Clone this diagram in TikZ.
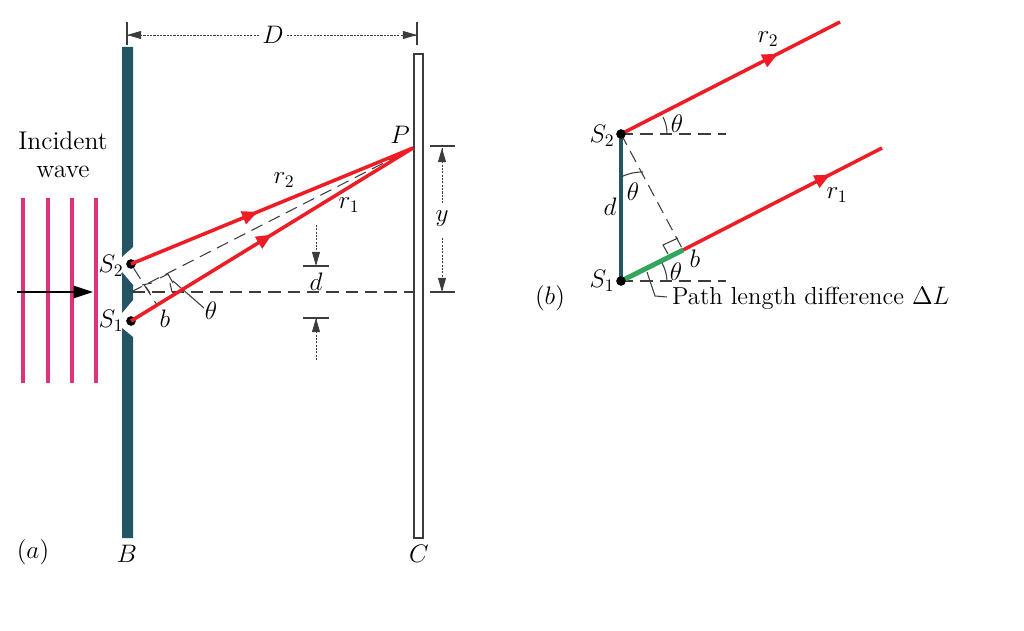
\documentclass[tikz,border=0pt]{standalone}
\usetikzlibrary{arrows.meta,decorations.markings,calc}
\definecolor{barrierteal}{RGB}{35,85,100}
\definecolor{wavepink}{RGB}{222,50,125}
\definecolor{rayred}{RGB}{238,28,37}
\definecolor{pathgreen}{RGB}{50,165,95}
\definecolor{dimgray}{RGB}{60,60,60}
\begin{document}
\begin{tikzpicture}[x=0.02cm, y=-0.02cm, line cap=butt, line join=miter, >=Stealth, font=\fontsize{14}{16}\selectfont]
	\tikzset{
		ray/.style={rayred, line width=2pt},
		midarrow/.style={postaction={decorate}, decoration={markings, mark=at position #1 with {\arrow[rayred]{Triangle[length=9pt,width=7.5pt]}}}},
		dashline/.style={dimgray, line width=0.6pt, dash pattern=on 7pt off 4pt},
		dimline/.style={dimgray, line width=0.5pt, dash pattern=on 1.2pt off 0.7pt},
		dimtip/.style={dimgray, line width=0.5pt, {Triangle[length=8pt,width=4.5pt]}-},
		thinline/.style={dimgray, line width=0.6pt},
		slitdot/.style={circle, fill=black, inner sep=0pt, minimum size=5.5pt}
	}
	\useasboundingbox (0,0) rectangle (1024,631);
	% part (a): waves and barrier
	\foreach \wx in {23,48,72,96}
		\draw[wavepink, line width=2.6pt] (\wx,198) -- (\wx,383);
	\draw[black, line width=1pt, -{Triangle[length=11pt,width=7pt]}] (17,292) -- (93,292);
	\fill[barrierteal] (122,47) -- (133,47) -- (133,247) -- (122,257) -- cycle;
	\fill[barrierteal] (122,272) -- (133,285) -- (133,300) -- (122,313) -- cycle;
	\fill[barrierteal] (122,328) -- (133,337) -- (133,538) -- (122,538) -- cycle;
	% screen
	\draw[dimgray, line width=1pt, fill=white] (414,54) rectangle (423,538);
	% points
	\node[slitdot] (S2a) at (131,264) {};
	\node[slitdot] (S1a) at (131,321) {};
	\coordinate (P) at (413,148);
	\coordinate (Ma) at (131,292);
	\coordinate (Fa) at (157,305);
	% dashed lines
	\draw[dashline] (133,292) -- (413,292);
	\draw[dashline] (Ma) -- (P);
	\draw[dashline] (S2a) -- (Fa);
	\draw[thinline] (160,278) -- (168,274) -- (173,283);
	\draw[thinline] (170,283) -- (172,292);
	\draw[thinline] (142,285) -- (152,283) (146,287) -- (150,293);
	\draw[thinline] (173,281) -- (204,308);
	% rays
	\draw[ray, midarrow=0.45] (S2a.center) -- (P);
	\draw[ray, midarrow=0.5] (S1a.center) -- (P);
	% D dimension
	\draw[thinline] (127,22) -- (127,45) (417,22) -- (417,45);
	\draw[dimline] (259,35) -- (127,35) (287,35) -- (417,35);
	\draw[dimtip] (127,35) -- (142,35);
	\draw[dimtip] (417,35) -- (402,35);
	% y dimension
	\draw[thinline] (430,146) -- (455,146) (430,292) -- (455,292);
	\draw[dimline] (442,148) -- (442,203) (442,238) -- (442,292);
	\draw[dimtip] (442,148) -- (442,162);
	\draw[dimtip] (442,292) -- (442,278);
	% d dimension
	\draw[thinline] (303,266) -- (329,266) (303,318) -- (329,318);
	\draw[dimline] (316,225) -- (316,266) (316,318) -- (316,361);
	\draw[dimtip] (316,266) -- (316,252);
	\draw[dimtip] (316,318) -- (316,332);
	% labels (a)
	\node[align=center, font=\fontsize{14.6}{16}\selectfont] (incident) at (63,155) {Incident\\wave};
	\node (s2lbl) at (111,266) {$S_2$};
	\node (s1lbl) at (111,321) {$S_1$};
	\node (blbl) at (165,319) {$b$};
	\node (thlbl) at (211,311) {$\theta$};
	\node (r2lbl) at (284,180) {$r_2$};
	\node (r1lbl) at (349,205) {$r_1$};
	\node (plbl) at (400,135) {$P$};
	\node (Dlbl) at (273,35) {$D$};
	\node (ylbl) at (442,219) {$y$};
	\node (dlbl) at (316,282) {$d$};
	\node (alabel) at (33,552) {$(a)$};
	\node (Blbl) at (127,554) {$B$};
	\node (Clbl) at (419,554) {$C$};
	% part (b)
	\coordinate (S2b) at (621,134);
	\coordinate (S1b) at (621,281);
	\coordinate (Fb) at (683,250);
	\draw[dashline] (S2b) -- (726,134);
	\draw[dashline] (S1b) -- (726,281);
	\draw[dashline] (S2b) -- (Fb);
	\draw[barrierteal, line width=2pt] (S2b) -- (S1b);
	\draw[ray, midarrow=0.717] (S2b) -- (840,22);
	\draw[ray, midarrow=0.74] (Fb) -- (882,148);
	\draw[pathgreen, line width=2.8pt] (S1b) -- (Fb);
	\node[slitdot] (S2dot) at (S2b) {};
	\node[slitdot] (S1dot) at (S1b) {};
	\draw[thinline] (678,238) -- (663,245) -- (668,254);
	\draw[thinline] (621,177) to[bend left=12] (643,172);
	\draw[thinline] (667,134) to[bend right=12] (663,117);
	\draw[thinline] (667,281) to[bend right=12] (662,263);
	\draw[thinline] (647,272) -- (655,296) -- (667,297);
	\node (s2blbl) at (602,136) {$S_2$};
	\node (s1blbl) at (602,281) {$S_1$};
	\node (dblbl) at (610,207) {$d$};
	\node (thb1) at (633,192) {$\theta$};
	\node (thb2) at (677,124) {$\theta$};
	\node (thb3) at (676,272) {$\theta$};
	\node (bblbl) at (695,259) {$b$};
	\node (r2blbl) at (768,39) {$r_2$};
	\node (r1blbl) at (837,195) {$r_1$};
	\node (blabel) at (550,298) {$(b)$};
	\node[anchor=west] (pathlbl) at (666,298) {Path length difference $\Delta L$};
\end{tikzpicture}
\end{document}
